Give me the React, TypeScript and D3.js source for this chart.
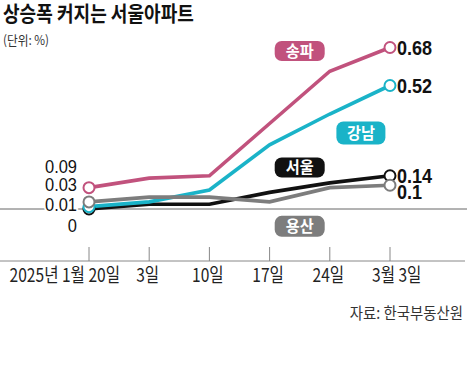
import React from 'react';
import * as d3 from 'd3';

const categories = ['2025년 1월 20일', '3일', '10일', '17일', '24일', '3월 3일'];
const songpa = [0.09, 0.13, 0.14, 0.36, 0.58, 0.68];
const gangnam = [0.01, 0.03, 0.08, 0.27, 0.4, 0.52];
const seoul = [0, 0.02, 0.02, 0.07, 0.11, 0.14];
const yongsan = [0.03, 0.05, 0.05, 0.03, 0.09, 0.1];
const seriesNames = ['서울', '강남', '용산', '송파'];
const startLabels = ['0.09', '0.03', '0.01', '0'];
const endLabels = ['0.68', '0.52', '0.14', '0.1'];
const title = '상승폭 커지는 서울아파트';
const unitLabel = '(단위: %)';
const sourceLabel = '자료: 한국부동산원';

const W = 467;
const H = 383;
const KR = "'Noto Sans CJK KR', 'Noto Sans', sans-serif";
const NUM = "'Liberation Sans', Arial, sans-serif";

const x = d3.scalePoint<string>().domain(categories).range([89, 390]).padding(0);
const y = d3.scaleLinear().domain([0, 0.68]).range([209, 47.5]);

type S = { name: string; values: number[]; color: string };
const series: S[] = [
  { name: seriesNames[0], values: seoul, color: '#111111' },
  { name: seriesNames[1], values: gangnam, color: '#1ab3c8' },
  { name: seriesNames[2], values: yongsan, color: '#7d7d7d' },
  { name: seriesNames[3], values: songpa, color: '#c1527d' },
];

const CText = ({ x, y, sx = 1, anchor = 'start', size, weight = 400, fill = '#111', family = KR, halo = false, children }: any) => (
  <text
    transform={`translate(${x},${y}) scale(${sx},1)`}
    textAnchor={anchor}
    fontSize={size}
    fontWeight={weight}
    fill={fill}
    fontFamily={family}
    stroke={halo ? '#fff' : undefined}
    strokeWidth={halo ? 4 : undefined}
    paintOrder={halo ? 'stroke' : undefined}
  >
    {children}
  </text>
);

export default function App() {
  const line = d3
    .line<number>()
    .x((_, i) => x(categories[i]) as number)
    .y((d) => y(d));

  const n = categories.length;
  const x0 = x(categories[0]) as number;
  const xN = x(categories[n - 1]) as number;
  const mid34 = ((x(categories[3]) as number) + (x(categories[4]) as number)) / 2;
  const mid45 = ((x(categories[4]) as number) + (x(categories[5]) as number)) / 2;

  const badges = [
    { s: series[3], cx: mid34, cy: y(0.665), w: 50, h: 20 },
    { s: series[1], cx: mid45 + 1, cy: y(0.32), w: 49, h: 23 },
    { s: series[0], cx: mid34, cy: y(0.175), w: 50, h: 20 },
    { s: series[2], cx: mid34, cy: y(-0.073), w: 50, h: 21 },
  ];

  const startVals = [songpa[0], yongsan[0], gangnam[0], seoul[0]];
  const startOffsets = [-14.5, -10.5, 4.5, 22.5];
  const endVals = [songpa[n - 1], gangnam[n - 1], seoul[n - 1], yongsan[n - 1]];
  const endOffsets = [7.5, 7.5, 7, 14];

  const axisY = 261;

  return (
    <svg width={W} height={H} style={{ position: 'absolute', left: 0, top: 0, background: '#fff' }}>
      <rect width={W} height={H} fill="#fff" />
      <CText x={3} y={21} sx={0.86} size={21} weight={700} fill="#111">{title}</CText>
      <CText x={3} y={45} sx={0.9} size={13} fill="#333">{unitLabel}</CText>

      <line x1={0} x2={W} y1={y(0)} y2={y(0)} stroke="#666" strokeWidth={1} />

      {startLabels.map((l, i) => (
        <CText key={l} x={77} y={y(startVals[i]) + startOffsets[i]} sx={0.94} anchor="end" size={17.5} family={NUM} fill="#111" halo>
          {l}
        </CText>
      ))}

      <line x1={0} x2={465} y1={axisY} y2={axisY} stroke="#888" strokeWidth={1} />
      {categories.map((c) => (
        <line key={c} x1={x(c)} x2={x(c)} y1={247} y2={axisY} stroke="#888" strokeWidth={1} />
      ))}
      {categories.map((c, i) => {
        const px = x(c) as number;
        if (i === 0)
          return (
            <CText key={c} x={px + 31} y={282} sx={0.82} anchor="end" size={19} fill="#222">{c}</CText>
          );
        if (i === n - 1)
          return (
            <CText key={c} x={px - 18} y={282} sx={0.82} anchor="start" size={19} fill="#222">{c}</CText>
          );
        return (
          <CText key={c} x={px - 1.5} y={282} sx={0.82} anchor="middle" size={19} fill="#222">{c}</CText>
        );
      })}

      {series.map((s) => (
        <path key={s.name} d={line(s.values) as string} fill="none" stroke={s.color} strokeWidth={3.6} strokeLinejoin="miter" />
      ))}

      {series.map((s) => (
        <g key={s.name + 'm'}>
          <circle cx={x0} cy={y(s.values[0])} r={5.5} fill="#fff" stroke={s.color} strokeWidth={2} />
          <circle cx={xN} cy={y(s.values[n - 1])} r={5.5} fill="#fff" stroke={s.color} strokeWidth={2} />
        </g>
      ))}

      {endLabels.map((l, i) => (
        <CText key={l} x={397} y={y(endVals[i]) + endOffsets[i]} sx={0.88} size={20.5} weight={700} family={NUM} fill="#111">
          {l}
        </CText>
      ))}

      {badges.map((b) => (
        <g key={b.s.name + 'b'}>
          <rect x={b.cx - b.w / 2} y={b.cy - b.h / 2} width={b.w} height={b.h} rx={7} fill={b.s.color} />
          <CText x={b.cx} y={b.cy + 5.5} sx={0.95} anchor="middle" size={16} weight={700} fill="#fff">{b.s.name}</CText>
        </g>
      ))}

      <CText x={463} y={319} sx={0.9} anchor="end" size={16} fill="#333">{sourceLabel}</CText>
    </svg>
  );
}
